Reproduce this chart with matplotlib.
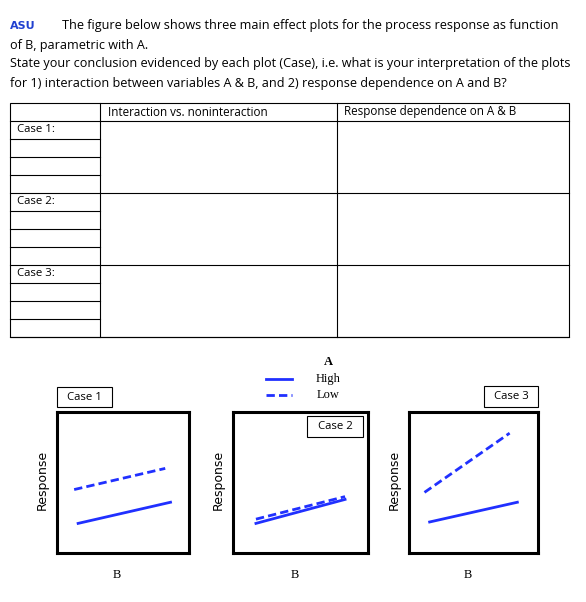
import matplotlib
matplotlib.use("Agg")
import matplotlib.pyplot as plt
from matplotlib.patches import Rectangle

cases = ["Case 1", "Case 2", "Case 3"]
b_pos = [[0.16, 0.86], [0.17, 0.83], [0.16, 0.84]]
high_vals = [[0.21, 0.36], [0.21, 0.38], [0.22, 0.36]]
low_b_pos = [[0.13, 0.82], [0.17, 0.83], [0.12, 0.78]]
low_vals = [[0.45, 0.60], [0.24, 0.40], [0.43, 0.85]]
col_headers = ["Interaction vs. noninteraction", "Response dependence on A & B"]

W, H = 586, 602
fig = plt.figure(figsize=(W/100, H/100), dpi=100)
bg = fig.add_axes([0, 0, 1, 1])
bg.set_xlim(0, W); bg.set_ylim(H, 0); bg.axis("off")
TF = "Open Sans"
FS = 9.1
bg.text(62, 26, "The figure below shows three main effect plots for the process response as function",
        fontsize=FS, family=TF, va="center")
bg.text(10, 26, "ASU", fontsize=8, color="#2040d0", weight="bold", va="center")
bg.text(10, 45, "of B, parametric with A.", fontsize=FS, family=TF, va="center")
bg.text(10, 64, "State your conclusion evidenced by each plot (Case), i.e. what is your interpretation of the plots",
        fontsize=FS, family=TF, va="center")
bg.text(10, 83, "for 1) interaction between variables A & B, and 2) response dependence on A and B?",
        fontsize=FS, family=TF, va="center")

# table
lw = 0.8
bg.add_patch(Rectangle((10, 103), 559, 234, fill=False, lw=lw))
for x in (100, 337):
    bg.plot([x, x], [103, 337], color="k", lw=lw)
bg.plot([10, 569], [121, 121], color="k", lw=lw)
bg.text(108, 112, col_headers[0], fontsize=8.4, family=TF, va="center")
bg.text(344, 112, col_headers[1], fontsize=8.4, family=TF, va="center")
for i, c in enumerate(cases):
    top = 121 + 72*i
    bg.plot([10, 569], [top+72, top+72], color="k", lw=lw)
    for k in (1, 2, 3):
        bg.plot([10, 100], [top+18*k, top+18*k], color="k", lw=lw)
    bg.text(17, top+9, c + ":", fontsize=8.2, family=TF, va="center")

# legend
bg.text(328, 362, "A", fontsize=9, family="Liberation Serif", weight="bold", ha="center", va="center")
bg.text(328, 379, "High", fontsize=9, family="Liberation Serif", ha="center", va="center")
bg.text(328, 395, "Low", fontsize=9, family="Liberation Serif", ha="center", va="center")
bg.plot([266, 292], [379, 379], color="#2030ff", lw=2)
bg.plot([266, 292], [395, 395], color="#2030ff", lw=2, ls=(0, (3, 1.5)))

boxes = [(57, 189), (233, 368), (409, 538)]
label_boxes = [(57, 387, 55, 20), (307, 416, 56, 21), (484, 386, 54, 21)]
for i, (x0, x1) in enumerate(boxes):
    ax = fig.add_axes([x0/W, 1-553/H, (x1-x0)/W, 141/H])
    ax.set_xlim(0, 1); ax.set_ylim(0, 1)
    ax.set_xticks([]); ax.set_yticks([])
    for s in ax.spines.values():
        s.set_linewidth(2.2)
    ax.plot(b_pos[i], high_vals[i], color="#2030ff", lw=2)
    ax.plot(low_b_pos[i], low_vals[i], color="#2030ff", lw=2, ls=(0, (3, 1.5)))
    bg.text(x0-15, 480, "Response", fontsize=9, family="DejaVu Sans", rotation=90, ha="center", va="center")
    bg.text((x0+x1)/2 - 6, 575, "B", fontsize=9, family="Liberation Serif", ha="center", va="center")

top_ax = fig.add_axes([0, 0, 1, 1])
top_ax.set_xlim(0, W); top_ax.set_ylim(H, 0); top_ax.axis("off")
for i in range(3):
    lx, ly, lw_, lh = label_boxes[i]
    top_ax.add_patch(Rectangle((lx, ly), lw_, lh, facecolor="white", edgecolor="k", lw=0.8))
    top_ax.text(lx+lw_/2, ly+lh/2, cases[i], fontsize=8.2, family=TF, ha="center", va="center")

fig.savefig("out.png", dpi=100)
